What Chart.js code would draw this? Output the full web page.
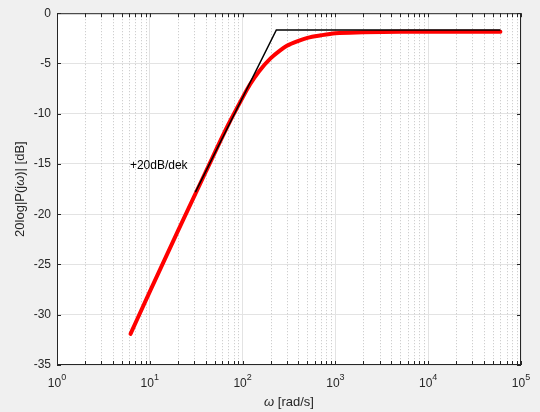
<!DOCTYPE html>
<html>
<head>
<meta charset="utf-8">
<script src="https://cdn.jsdelivr.net/npm/chart.js@4.4.0/dist/chart.umd.min.js"></script>
<style>html,body{margin:0;padding:0;background:#f0f0f0}</style>
</head>
<body>
<canvas id="c" width="540" height="412"></canvas>
<script>
const omegaRed=[6.2,10,20,40,70,100,120,150,200,250,300,400,500,700,1000,2000,5000,10000,60000];
const magRed=[-31.9,-27.7,-21.7,-15.8,-11.1,-8.4,-7.1,-5.8,-4.5,-3.75,-3.25,-2.75,-2.45,-2.2,-2.0,-1.9,-1.85,-1.85,-1.85];
// asymptote (black)
const omegaAsym=[31,231,60000];
const magAsym=[-17.8,-1.66,-1.66];
const xDecades=[1,10,100,1000,10000,100000];
const yTicks=[0,-5,-10,-15,-20,-25,-30,-35];
const slopeText='+20dB/dek';
const slopePos={x:6.1,y:-15.2};

const FONT='"Liberation Sans", Arial, sans-serif';

function toPoints(xs,ys){
    return xs.map((x,i)=>({x:x,y:ys[i]}));
}

// minor ticks 2..9 per decade
function minorValues(){
    let out=[];
    for(let d=1;d<1e5;d*=10){
        for(let k=2;k<=9;k++)out.push(k*d);
    }
    return out;
}

const matlabLook={
    id:'matlabLook',
    beforeDraw(chart){
        const {ctx,chartArea:a}=chart;
        ctx.save();
        ctx.fillStyle='#f0f0f0';
        ctx.fillRect(0,0,chart.width,chart.height);
        ctx.fillStyle='#ffffff';
        ctx.fillRect(a.left,a.top,a.right-a.left,a.bottom-a.top);
        ctx.restore();
    },
    beforeDatasetsDraw(chart){
        const {ctx,chartArea:a,scales}=chart;
        ctx.save();
        ctx.strokeStyle='#c4c4c4';
        ctx.lineWidth=1;
        ctx.setLineDash([1,2]);
        minorValues().forEach(v=>{
            const x=Math.round(scales.x.getPixelForValue(v))+0.5;
            ctx.beginPath();
            ctx.moveTo(x,a.top);
            ctx.lineTo(x,a.bottom);
            ctx.stroke();
        });
        ctx.restore();
    },
    afterDraw(chart){
        const {ctx,chartArea:a,scales}=chart;
        ctx.save();
        // box
        ctx.strokeStyle='#262626';
        ctx.lineWidth=1;
        ctx.strokeRect(a.left+0.5,a.top+0.5,a.right-a.left-1,a.bottom-a.top-1);
        // inward ticks
        const tl=4;
        ctx.beginPath();
        xDecades.concat(minorValues()).forEach(v=>{
            const x=Math.round(scales.x.getPixelForValue(v))+0.5;
            ctx.moveTo(x,a.bottom);ctx.lineTo(x,a.bottom-tl);
            ctx.moveTo(x,a.top);ctx.lineTo(x,a.top+tl);
        });
        yTicks.forEach(v=>{
            const y=Math.round(scales.y.getPixelForValue(v))+0.5;
            ctx.moveTo(a.left,y);ctx.lineTo(a.left+tl,y);
            ctx.moveTo(a.right,y);ctx.lineTo(a.right-tl,y);
        });
        ctx.stroke();

        // x tick labels 10^n
        ctx.fillStyle='#262626';
        ctx.textAlign='left';
        ctx.textBaseline='alphabetic';
        xDecades.forEach(v=>{
            const e=String(Math.round(Math.log10(v)));
            ctx.font='12px '+FONT;const wb=ctx.measureText('10').width;
            ctx.font='9px '+FONT;const we=ctx.measureText(e).width;
            const x0=scales.x.getPixelForValue(v)-(wb+we)/2;
            ctx.font='12px '+FONT;ctx.fillText('10',x0,a.bottom+22);
            ctx.font='9px '+FONT;ctx.fillText(e,x0+wb,a.bottom+15);
        });

        // annotation
        ctx.fillStyle='#000';
        ctx.font='12px '+FONT;
        ctx.textAlign='left';
        ctx.textBaseline='middle';
        ctx.fillText(slopeText,scales.x.getPixelForValue(slopePos.x),scales.y.getPixelForValue(slopePos.y));

        // x title
        ctx.fillStyle='#262626';
        const it='italic 13px '+FONT, rm='13px '+FONT;
        ctx.font=it;const w1=ctx.measureText('ω').width;
        ctx.font=rm;const w2=ctx.measureText(' [rad/s]').width;
        let cx=(a.left+a.right)/2-(w1+w2)/2;
        ctx.font=it;ctx.fillText('ω',cx,402);
        ctx.font=rm;ctx.fillText(' [rad/s]',cx+w1,402);

        // y title, rotated
        const parts=[['20log|P(j',rm],['ω',it],[')| [dB]',rm]];
        let total=0;
        parts.forEach(p=>{ctx.font=p[1];total+=ctx.measureText(p[0]).width;});
        ctx.translate(20,(a.top+a.bottom)/2);
        ctx.rotate(-Math.PI/2);
        let px=-total/2;
        parts.forEach(p=>{ctx.font=p[1];ctx.fillText(p[0],px,0);px+=ctx.measureText(p[0]).width;});
        ctx.restore();
    }
};

new Chart(document.getElementById('c').getContext('2d'),{
    type:'line',
    data:{datasets:[
        {label:'asymptote',data:toPoints(omegaAsym,magAsym),borderColor:'#000000',borderWidth:1.5,pointRadius:0,tension:0},
        {label:'P',data:toPoints(omegaRed,magRed),borderColor:'#ff0000',borderWidth:4,pointRadius:0,cubicInterpolationMode:'monotone',borderCapStyle:'round'}
    ]},
    options:{
        responsive:false,
        animation:false,
        events:[],
        layout:{padding:{left:0,top:13,right:19,bottom:0}},
        plugins:{legend:{display:false},tooltip:{enabled:false}},
        scales:{
            x:{
                type:'logarithmic',min:1,max:1e5,
                afterBuildTicks:s=>{s.ticks=xDecades.map(v=>({value:v}));},
                afterFit:s=>{s.height=47;},
                ticks:{display:false,autoSkip:false},
                grid:{color:'#e3e3e3',drawTicks:false},
                border:{display:false}
            },
            y:{
                min:-35,max:0,
                afterBuildTicks:s=>{s.ticks=yTicks.map(v=>({value:v}));},
                afterFit:s=>{s.width=57;},
                ticks:{font:{family:FONT,size:12},color:'#262626',padding:6},
                grid:{color:'#e3e3e3',drawTicks:false},
                border:{display:false}
            }
        }
    },
    plugins:[matlabLook]
});
</script>
</body>
</html>
